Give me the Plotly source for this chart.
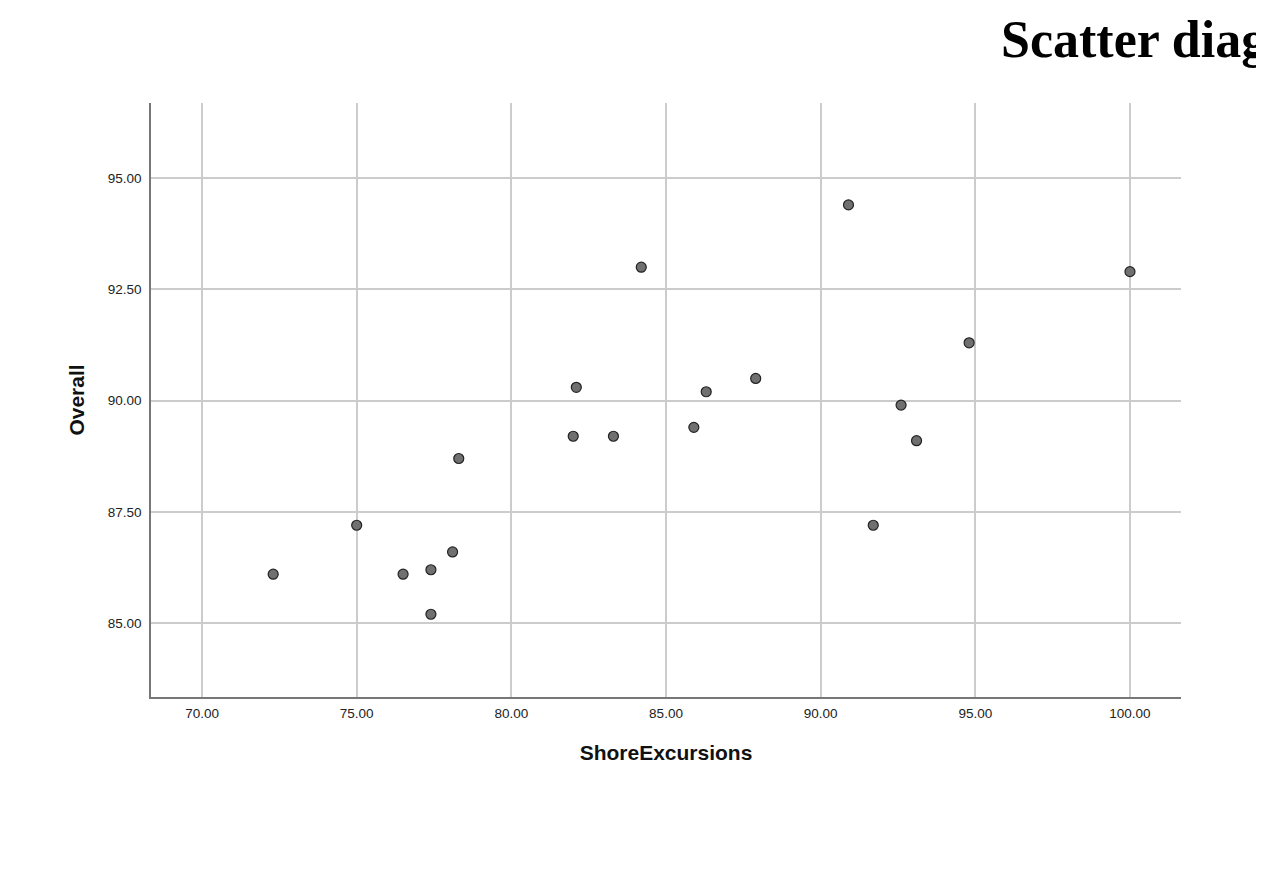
import plotly.graph_objects as go

shore_excursions = [72.3, 75.0, 76.5, 77.4, 77.4, 78.1, 78.3, 82.0, 82.1, 83.3,
                    84.2, 85.9, 86.3, 87.9, 90.9, 91.7, 92.6, 93.1, 94.8, 100.0]
overall = [86.1, 87.2, 86.1, 86.2, 85.2, 86.6, 88.7, 89.2, 90.3, 89.2,
           93.0, 89.4, 90.2, 90.5, 94.4, 87.2, 89.9, 89.1, 91.3, 92.9]

x_ticks = [70, 75, 80, 85, 90, 95, 100]
y_ticks = [85, 87.5, 90, 92.5, 95]

fig = go.Figure()

fig.add_trace(go.Scatter(
    x=shore_excursions,
    y=overall,
    mode="markers",
    marker=dict(size=10, color="#707070", line=dict(color="#222222", width=1.2)),
    cliponaxis=False,
    showlegend=False,
))

axis_font = dict(family="Arial, Liberation Sans, sans-serif", size=13.5, color="#222222")
title_font = dict(family="Arial, Liberation Sans, sans-serif", size=21, color="#111111")

fig.update_xaxes(
    range=[68.35, 101.65],
    tickvals=x_ticks,
    ticktext=["%.2f" % v for v in x_ticks],
    showgrid=True, gridcolor="#cccccc", gridwidth=1.5,
    showline=True, linecolor="#777777", linewidth=1.5,
    zeroline=False, ticks="", ticklabelstandoff=3,
    tickfont=axis_font,
    title=dict(text="<b>ShoreExcursions</b>", standoff=25, font=title_font),
)
fig.update_yaxes(
    range=[83.34, 96.69],
    tickvals=y_ticks,
    ticktext=["%.2f" % v for v in y_ticks],
    showgrid=True, gridcolor="#cccccc", gridwidth=1.5,
    showline=True, linecolor="#777777", linewidth=1.5,
    zeroline=False, ticks="", ticklabelstandoff=5,
    tickfont=axis_font,
    title=dict(text="<b>Overall</b>", standoff=17, font=title_font),
)

# title sits at the top right and runs off the page edge
fig.add_annotation(
    text="<b>Scatter diagram</b>",
    xref="paper", yref="paper",
    x=(991 - 143) / 1030, y=1 + (95 - 31) / 594,
    xanchor="left", yanchor="middle",
    showarrow=False,
    font=dict(family="Times New Roman, Liberation Serif, serif", size=52, color="#000000"),
)

fig.update_layout(
    width=1256, height=854,
    margin=dict(l=143, r=83, t=95, b=165),
    plot_bgcolor="white",
    paper_bgcolor="white",
)

fig.write_html("out.html")
